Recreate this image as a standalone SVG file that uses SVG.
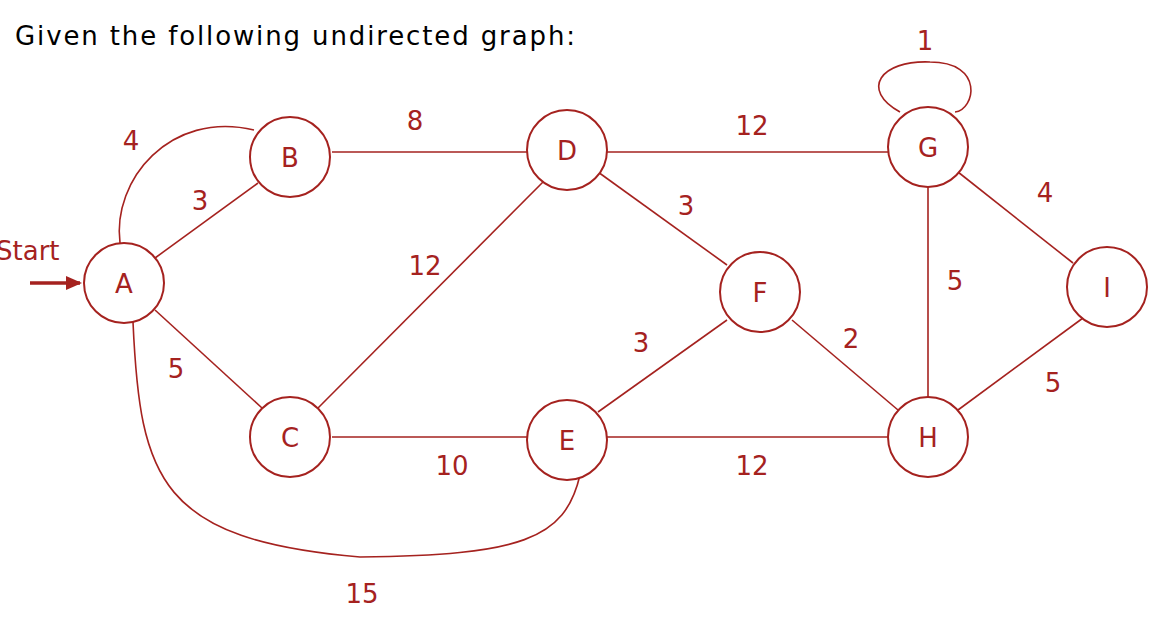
<svg xmlns="http://www.w3.org/2000/svg" width="1172" height="622" viewBox="0 0 1172 622">
<style>
.n{fill:#fff;stroke:#a5221f;stroke-width:2}
.e{fill:none;stroke:#a5221f;stroke-width:1.6}
text{font-family:"DejaVu Sans",Verdana,sans-serif;fill:#a5221f;font-size:26px;text-anchor:middle}
.t{fill:#000;text-anchor:start}
</style>
<defs><marker id="ar" markerWidth="16" markerHeight="14" refX="14" refY="7" orient="auto" markerUnits="userSpaceOnUse"><path d="M0,0L16,7L0,14z" fill="#a5221f"/></marker></defs>
<rect width="1172" height="622" fill="#fff"/>
<text class="t" x="15" y="45" textLength="560" lengthAdjust="spacing">Given the following undirected graph:</text>
<text class="t" x="-4" y="260" style="fill:#a5221f">Start</text>
<line x1="30" y1="283" x2="80" y2="283" stroke="#a5221f" stroke-width="3.5" marker-end="url(#ar)"/>
<g id="connectors">
<path class="e" d="M120,243 C112,180 170,110 254,130"/>
<path class="e" d="M155,258 L258,183"/>
<path class="e" d="M332,152 L527,152"/>
<path class="e" d="M607,152 L888,152"/>
<path class="e" d="M155,310 L262,408"/>
<path class="e" d="M318,408 L545,180"/>
<path class="e" d="M332,437 L527,437"/>
<path class="e" d="M607,437 L888,437"/>
<path class="e" d="M598,412 L727,320"/>
<path class="e" d="M598,172 L727,265"/>
<path class="e" d="M792,320 L898,410"/>
<path class="e" d="M928,187 L928,397"/>
<path class="e" d="M958,172 L1073,263"/>
<path class="e" d="M958,410 L1083,318"/>
<path class="e" d="M133,322 C140,480 160,540 360,557 C520,555 565,540 580,475"/>
<path class="e" d="M900,112 C860,90 880,60 930,62 C985,62 975,110 955,112"/>
</g>
<g id="A"><circle class="n" cx="124" cy="283" r="40"/><text x="124" y="293">A</text></g>
<g id="B"><circle class="n" cx="290" cy="157" r="40"/><text x="290" y="167">B</text></g>
<g id="C"><circle class="n" cx="290" cy="437" r="40"/><text x="290" y="447">C</text></g>
<g id="D"><circle class="n" cx="567" cy="150" r="40"/><text x="567" y="160">D</text></g>
<g id="E"><circle class="n" cx="567" cy="440" r="40"/><text x="567" y="450">E</text></g>
<g id="F"><circle class="n" cx="760" cy="292" r="40"/><text x="760" y="302">F</text></g>
<g id="G"><circle class="n" cx="928" cy="147" r="40"/><text x="928" y="157">G</text></g>
<g id="H"><circle class="n" cx="928" cy="437" r="40"/><text x="928" y="447">H</text></g>
<g id="I"><circle class="n" cx="1107" cy="287" r="40"/><text x="1107" y="297">I</text></g>
<g id="weights">
<text x="131" y="150">4</text><text x="200" y="210">3</text><text x="415" y="130">8</text>
<text x="425" y="275">12</text><text x="176" y="378">5</text><text x="452" y="475">10</text>
<text x="362" y="603">15</text><text x="752" y="135">12</text><text x="686" y="215">3</text>
<text x="641" y="352">3</text><text x="851" y="348">2</text><text x="752" y="475">12</text>
<text x="955" y="290">5</text><text x="1045" y="202">4</text><text x="1053" y="392">5</text>
<text x="925" y="50">1</text>
</g>
</svg>
